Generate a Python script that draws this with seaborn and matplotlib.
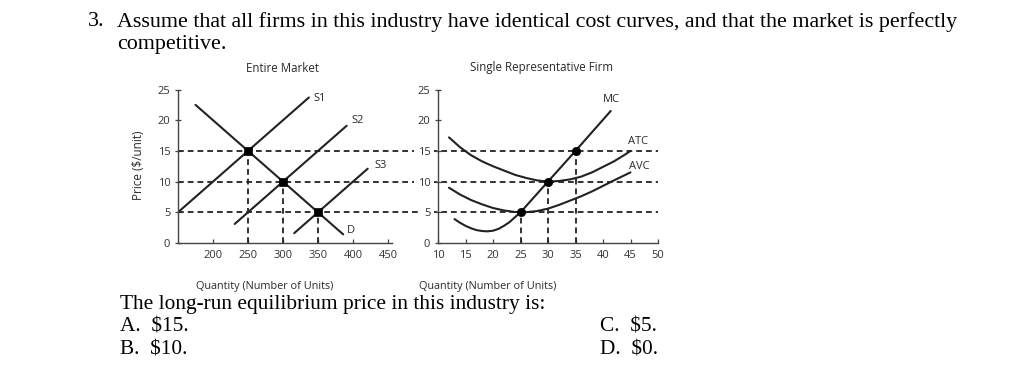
import numpy as np
import pandas as pd
import matplotlib
matplotlib.use("Agg")
import matplotlib.pyplot as plt
import seaborn as sns

sns.set_style("white")
plt.rcParams['font.family'] = ['Open Sans', 'DejaVu Sans']

# ---------------- data ----------------
# Entire market
D_q = [175, 386]
D_p = [22.5, 1.4]
S1_q = [150, 337]
S1_p = [5.0, 23.7]
S2_q = [231, 391]
S2_p = [3.1, 19.1]
S3_q = [316, 421]
S3_p = [1.6, 12.1]
mkt_eq_q = [250, 300, 350]
mkt_eq_p = [15, 10, 5]
mkt_xticks = [200, 250, 300, 350, 400, 450]

# Single representative firm
MC_q = [13, 14, 15, 16, 17, 18, 19, 20, 21, 22, 23, 24, 25, 30, 35, 41.4]
MC_p = [3.9, 3.3, 2.8, 2.4, 2.1, 1.95, 1.9, 2.0, 2.3, 2.8, 3.4, 4.2, 5.0, 10, 15, 21.5]
ATC_q = [12, 14, 16, 18, 20, 22, 24, 26, 28, 30, 32, 34, 36, 38, 40, 42, 44, 45]
ATC_p = [17.2, 15.6, 14.3, 13.3, 12.5, 11.8, 11.1, 10.6, 10.2, 10.0, 10.1, 10.35, 10.8, 11.5, 12.4, 13.3, 14.4, 15.0]
AVC_q = [12, 14, 16, 18, 20, 22, 24, 25, 26, 28, 30, 32, 34, 36, 38, 40, 42, 45]
AVC_p = [9.0, 7.9, 7.0, 6.3, 5.7, 5.3, 5.05, 5.0, 5.02, 5.2, 5.6, 6.2, 6.9, 7.6, 8.4, 9.3, 10.2, 11.5]
firm_eq_q = [25, 30, 35]
firm_eq_p = [5, 10, 15]
firm_xticks = [10, 15, 20, 25, 30, 35, 40, 45, 50]
price_ticks = [0, 5, 10, 15, 20, 25]

# ---------------- figure ----------------
W, H = 1024, 383
fig = plt.figure(figsize=(W / 100, H / 100), dpi=100)
fig.patch.set_facecolor('white')

def px_axes(x0, x1, ytop, ybot):
    return fig.add_axes([x0 / W, 1 - ybot / H, (x1 - x0) / W, (ybot - ytop) / H])

ax1 = px_axes(178, 391.5, 89.5, 243)
ax2 = px_axes(438, 658, 89.5, 243)

LC = '#222222'
LW = 1.5
DASH = (0, (3.2, 2.2))
TFS = 8
TXT = '#2a2a2a'

def style(ax, xlim, xticks):
    ax.set_xlim(*xlim)
    ax.set_ylim(0, 25)
    ax.set_xticks(xticks)
    ax.set_yticks(price_ticks)
    for s in ['top', 'right']:
        ax.spines[s].set_visible(False)
    for s in ['left', 'bottom']:
        ax.spines[s].set_color('#444444')
        ax.spines[s].set_linewidth(1.0)
    ax.tick_params(axis='y', direction='inout', length=5, width=0.9, colors='#444444',
                   labelsize=TFS, labelcolor='#333333', pad=3, left=True)
    ax.tick_params(axis='x', direction='in', length=3, width=0.9, colors='#444444',
                   labelsize=TFS, labelcolor='#333333', pad=5, bottom=True)
    ax.set_xlabel('')
    ax.set_ylabel('')
    ax.set_facecolor('none')

style(ax1, (150, 455), mkt_xticks)
style(ax2, (10, 50), firm_xticks)
for t in ax2.get_yticklabels():
    t.set_bbox(dict(facecolor='white', edgecolor='none', pad=2.5))
    t.set_zorder(10)
ax2.set_zorder(3)
ax1.set_zorder(2)

# horizontal dashed price guides spanning both panels
x_end = ax1.transData.inverted().transform(ax2.transData.transform((50, 0)))[0]
ax1.hlines(mkt_eq_p, 150, x_end, colors=LC, linestyles=DASH, lw=1.3, clip_on=False, zorder=1)

# vertical guides
ax1.vlines(mkt_eq_q, 0, mkt_eq_p, colors=LC, linestyles=DASH, lw=1.3, zorder=1)
ax2.vlines(firm_eq_q, 0, firm_eq_p, colors=LC, linestyles=DASH, lw=1.3, zorder=1)

# market curves
for q, p in [(D_q, D_p), (S1_q, S1_p), (S2_q, S2_p), (S3_q, S3_p)]:
    sns.lineplot(x=q, y=p, ax=ax1, color=LC, lw=LW, sort=False, estimator=None)
sns.scatterplot(x=mkt_eq_q, y=mkt_eq_p, ax=ax1, color='black', marker='s', s=38,
                edgecolor='black', zorder=5)

# firm curves
for q, p in [(MC_q, MC_p), (ATC_q, ATC_p), (AVC_q, AVC_p)]:
    sns.lineplot(x=q, y=p, ax=ax2, color=LC, lw=LW, sort=False, estimator=None)
sns.scatterplot(x=firm_eq_q, y=firm_eq_p, ax=ax2, color='black', marker='o', s=36,
                edgecolor='black', zorder=5)

# curve labels
lbl = dict(fontsize=TFS, color=TXT, va='center', ha='left')
ax1.text(343, 23.6, 'S1', **lbl)
ax1.text(398, 20.0, 'S2', **lbl)
ax1.text(431, 12.7, 'S3', **lbl)
ax1.text(391, 2.0, 'D', **lbl)
ax2.text(40.0, 23.3, 'MC', **lbl)
ax2.text(44.6, 16.6, 'ATC', **lbl)
ax2.text(44.8, 12.4, 'AVC', **lbl)

# panel titles / axis labels
fig.text(283 / W, 1 - 68 / H, 'Entire Market', fontsize=8.3, color=TXT, ha='center', va='center')
fig.text(541 / W, 1 - 68 / H, 'Single Representative Firm', fontsize=8.3, color=TXT, ha='center', va='center')
fig.text(265 / W, 1 - 286 / H, 'Quantity (Number of Units)', fontsize=7.8, color=TXT, ha='center', va='center')
fig.text(488 / W, 1 - 286 / H, 'Quantity (Number of Units)', fontsize=7.8, color=TXT, ha='center', va='center')
fig.text(139 / W, 1 - 165.5 / H, 'Price ($/unit)', fontsize=8.5, color=TXT, ha='center', va='center', rotation=90)

# question text
serif = ['Liberation Serif', 'DejaVu Serif']
QFS = 15.85
fig.text(88 / W, 1 - 22 / H, '3.', family=serif, fontsize=QFS, ha='left', va='center', color='black')
fig.text(117 / W, 1 - 22 / H,
         'Assume that all firms in this industry have identical cost curves, and that the market is perfectly',
         family=serif, fontsize=QFS, ha='left', va='center', color='black')
fig.text(117 / W, 1 - 45 / H, 'competitive.', family=serif, fontsize=QFS, ha='left', va='center', color='black')
fig.text(120 / W, 1 - 305 / H, 'The long-run equilibrium price in this industry is:',
         family=serif, fontsize=15.4, ha='left', va='center', color='black')
fig.text(120 / W, 1 - 327 / H, 'A.  $15.', family=serif, fontsize=15.4, ha='left', va='center', color='black')
fig.text(120 / W, 1 - 350 / H, 'B.  $10.', family=serif, fontsize=15.4, ha='left', va='center', color='black')
fig.text(600 / W, 1 - 327 / H, 'C.  $5.', family=serif, fontsize=15.4, ha='left', va='center', color='black')
fig.text(600 / W, 1 - 350 / H, 'D.  $0.', family=serif, fontsize=15.4, ha='left', va='center', color='black')

fig.savefig('out.png', dpi=100, facecolor='white')
